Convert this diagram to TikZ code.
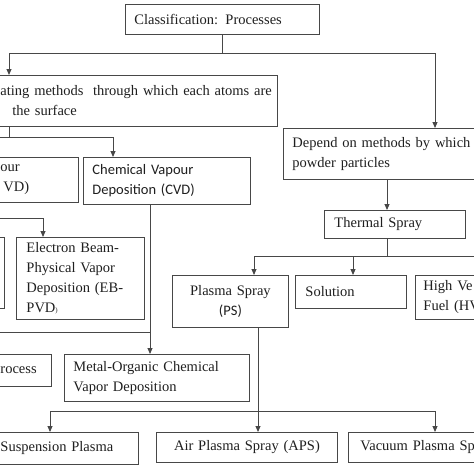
\documentclass[tikz,border=0pt]{standalone}
\usepackage{fontspec}
\setmainfont{Liberation Serif}
\newfontfamily\calfont{Carlito}
\usetikzlibrary{arrows.meta}
\tikzset{
  box/.style={draw=black!72, line width=0.9pt, anchor=north west, inner xsep=9pt, inner ysep=0pt,
    align=left, font=\fontsize{14.5}{20}\selectfont, text=black!88},
  arr/.style={draw=black!72, line width=0.9pt, -{Triangle[length=6pt,width=5pt]}},
  ln/.style={draw=black!72, line width=0.9pt},
}
\begin{document}
\begin{tikzpicture}[x=1pt,y=-1pt]
\useasboundingbox (0,0) rectangle (474,474);
\fill[white] (0,0) rectangle (474,474);
\clip (0,0) rectangle (474,474);

% boxes
\node[box, minimum width=194pt, minimum height=30pt, text width=176pt] (cls) at (125,4) {Classification: Processes};
\node[box, minimum width=286pt, minimum height=51pt, text width=268pt] (coat) at (-9,75)
  {\mbox{ating methods\ \ through which each atoms are}\\\hspace*{12pt}the surface};
\node[box, minimum width=87pt, minimum height=45pt, text width=69pt] (pvd) at (-9,157) {our\\\hspace*{3pt}VD)};
\node[box, minimum width=167pt, minimum height=47pt, text width=149pt, font=\calfont\fontsize{14.5}{20}\selectfont] (cvd) at (83,157)
  {Chemical Vapour\\Deposition (CVD)};
\node[box, minimum width=14pt, minimum height=71pt, inner xsep=0pt] (lbox) at (-10,237) {};
\node[box, minimum width=128pt, minimum height=82pt, inner xsep=10pt, text width=108pt] (ebpvd) at (16,237)
  {Electron Beam-\\Physical Vapor\\Deposition (EB-\\PVD{\fontsize{7}{8}\selectfont)}};
\node[box, minimum width=60pt, minimum height=32pt, text width=42pt] (proc) at (-9,354) {rocess};
\node[box, minimum width=185pt, minimum height=47pt, text width=167pt] (mocvd) at (64,354)
  {Metal-Organic Chemical\\Vapor Deposition};
\node[box, minimum width=147pt, minimum height=32pt, text width=129pt] (susp) at (-9,432) {Suspension Plasma};
\node[box, minimum width=181pt, minimum height=30pt, text width=163pt, align=center] (aps) at (156,432) {Air Plasma Spray (APS)};
\node[box, minimum width=140pt, minimum height=30pt, inner xsep=12pt, text width=116pt] (vac) at (348,432) {\mbox{Vacuum Plasma Sp}};
\node[box, minimum width=200pt, minimum height=51pt, text width=182pt] (dep) at (283,128)
  {\mbox{Depend on methods by which u}\\powder particles};
\node[box, minimum width=141pt, minimum height=28pt, inner xsep=10pt, text width=121pt] (ts) at (324,210) {Thermal Spray};
\node[box, minimum width=116pt, minimum height=52pt, text width=98pt, align=center] (ps) at (172,275)
  {Plasma Spray\\{\calfont (PS)}};
\node[box, minimum width=111pt, minimum height=33pt, inner xsep=10pt, text width=91pt] (sol) at (295,275) {Solution};
\node[box, minimum width=100pt, minimum height=44pt, inner xsep=8pt, text width=84pt] (hv) at (415,275) {High Ve\\Fuel (HV};

% junction coordinates
\coordinate (k1) at (9,53);
\coordinate (k2) at (435,53);
\coordinate (k3) at (9,137);
\coordinate (w1) at (-20,137);
\coordinate (k5) at (113,137);
\coordinate (w2) at (-20,218);
\coordinate (k6) at (43,218);
\coordinate (w3) at (-20,332);
\coordinate (k7) at (150,332);
\coordinate (k8) at (387,256);
\coordinate (k9) at (254,256);
\coordinate (k10) at (353,256);
\coordinate (e1) at (490,256);
\coordinate (k11) at (258,411);
\coordinate (k12) at (50,411);
\coordinate (k13) at (435,411);

% connectors
\draw[arr] (cls.south) |- (k1) -- (k1 |- coat.north);
\draw[arr] (cls.south) |- (k2) -- (k2 |- dep.north);
\draw[ln] (k1 |- coat.south) -- (k3);
\draw[arr] (w1) -- (k5) -- (k5 |- cvd.north);
\draw[arr] (w2) -- (k6) -- (k6 |- ebpvd.north);
\draw[arr] (k7 |- cvd.south) -- (k7 |- mocvd.north);
\draw[ln] (w3) -- (k7);
\draw[arr] (k8 |- dep.south) -- (k8 |- ts.north);
\draw[ln] (k8 |- ts.south) -- (k8) -- (e1);
\draw[arr] (k8) -- (k9) -- (k9 |- ps.north);
\draw[arr] (k10) -- (k10 |- sol.north);
\draw[arr] (k11 |- ps.south) -- (k11 |- aps.north);
\draw[ln] (k12) -- (k13);
\draw[arr] (k12) -- (k12 |- susp.north);
\draw[arr] (k13) -- (k13 |- vac.north);
\end{tikzpicture}
\end{document}
